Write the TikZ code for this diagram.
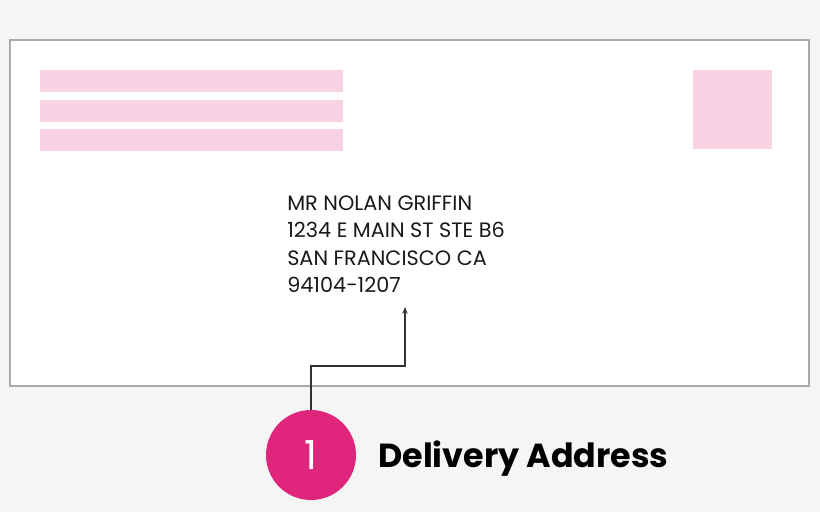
\documentclass[tikz,border=0pt]{standalone}
\usepackage{fontspec}
\setmainfont{Poppins}
\definecolor{bg}{HTML}{F5F5F5}
\definecolor{barpink}{HTML}{F9D3E3}
\definecolor{magenta1}{HTML}{E0257C}
\definecolor{edge}{HTML}{AAAAAA}
\definecolor{ink}{HTML}{1A1A1A}
\definecolor{lineink}{HTML}{333333}
\tikzset{
  x=0.75pt, y=-0.75pt,
  bar/.style={fill=barpink, draw=none},
  addr/.style={anchor=base west, inner sep=0pt, font=\fontsize{15.6}{20}\selectfont, text=ink},
  badge/.style={circle, fill=magenta1, minimum size=67.5pt, inner sep=0pt, text=white, font=\fontsize{30}{30}\selectfont},
  title/.style={anchor=base west, inner sep=0pt, font=\fontsize{25}{30}\selectfont\bfseries, text=black},
  conn/.style={draw=lineink, line width=1.1pt, -{Stealth[length=5pt,width=4pt]}}
}
\usetikzlibrary{arrows.meta}
\begin{document}
\begin{tikzpicture}
\fill[bg] (0,0) rectangle (820,512);
\useasboundingbox (0,0) rectangle (820,512);
\draw[edge, fill=white, line width=0.8pt] (10,40) rectangle (809,386);
\fill[bar] (40,70) rectangle (343,92);
\fill[bar] (40,100) rectangle (343,122);
\fill[bar] (40,129) rectangle (343,151);
\fill[bar] (693,70) rectangle (772,149);
\node[addr] (l1) at (287,210) {MR NOLAN GRIFFIN};
\node[addr] (l2) at (287,237.5) {1234 E MAIN ST STE B6};
\node[addr] (l3) at (287,265) {SAN FRANCISCO CA};
\node[addr] (l4) at (287,292.5) {94104-1207};
\coordinate (tip) at (405,307);
\node[badge] (b1) at (311,455) {1};
\node[title] (t1) at (378,467) {Delivery Address};
\draw[conn] (b1.north) -- (311,366) -- (405,366) -- (tip);
\end{tikzpicture}
\end{document}
